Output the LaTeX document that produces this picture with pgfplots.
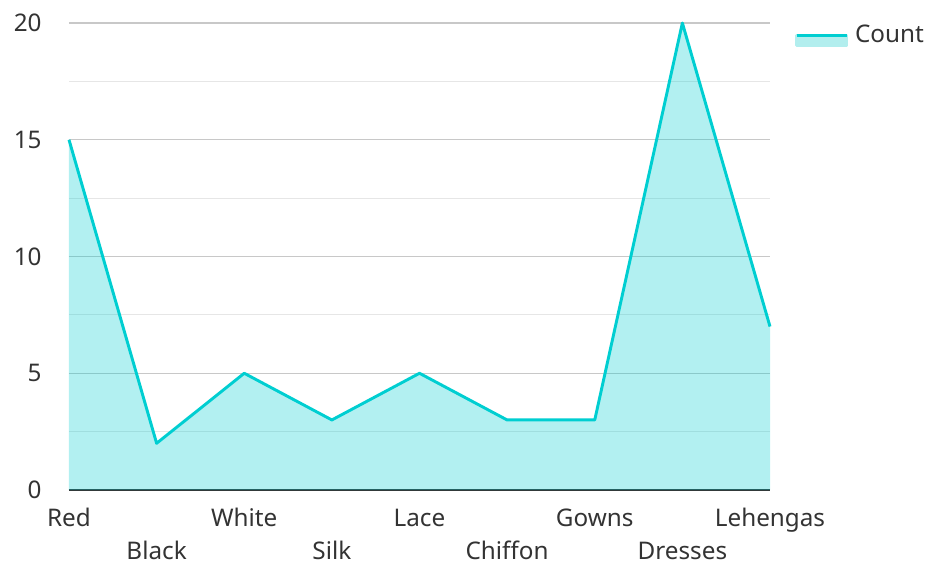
\documentclass[border=0pt]{standalone}
\usepackage{pgfplots}
\pgfplotsset{compat=1.18}
\usepackage{fontspec}
\setmainfont{Noto Sans}
\definecolor{turq}{RGB}{0,206,209}
\definecolor{turqfill}{RGB}{178,238,238}
\definecolor{txt}{RGB}{51,51,51}
\definecolor{gmaj}{RGB}{200,200,200}
\definecolor{gmin}{RGB}{230,230,230}

\begin{document}
\begin{tikzpicture}[x=1pt,y=1pt]
\useasboundingbox (-51.75,-54) rectangle (644.25,367.5);
\begin{axis}[
    at={(0,0)}, anchor=origin,
    scale only axis,
    width=525.75pt, height=350.25pt,
    xmin=0, xmax=8, ymin=0, ymax=20,
    xtick={0,...,8},
    xticklabels={{\strut Red},{\strut\\Black},{\strut White},{\strut\\Silk},{\strut Lace},
        {\strut\\Chiffon},{\strut Gowns},{\strut\\Dresses},{\strut Lehengas}},
    ytick={0,5,10,15,20},
    minor y tick num=1,
    ymajorgrids, yminorgrids,
    major grid style={gmaj, line width=0.9pt},
    minor grid style={gmin, line width=0.9pt},
    axis x line*=bottom, axis y line*=left,
    x axis line style={txt, line width=1.5pt, -},
    y axis line style={draw=none},
    major tick length=0pt, minor tick length=0pt,
    tick style={draw=none},
    ticklabel style={font=\fontsize{18.2}{24.75}\selectfont, text=txt},
    xticklabel style={align=center, anchor=north, yshift=-6.5pt},
    yticklabel style={xshift=-17pt},
    /pgf/number format/assume math mode=true,
    clip=false,
    legend style={at={(axis description cs:1.036,0.974)}, anchor=west, draw=none, fill=none,
        font=\fontsize{18.2}{20}\selectfont, text=txt, inner sep=0pt,
        /tikz/every even column/.append style={column sep=0pt}},
    legend cell align=left,
    legend image code/.code={
        \fill[turqfill] (0pt,-8pt) rectangle (37.5pt,0pt);
        \draw[turq, line width=2.2pt] (0pt,0pt) -- (37.5pt,0pt);
    },
]
\addplot[fill=turq, fill opacity=0.3, draw=none, forget plot] coordinates {
    (0,15) (1,2) (2,5) (3,3) (4,5) (5,3) (6,3) (7,20) (8,7)
} \closedcycle;
\addplot[turq, line width=2.2pt, line join=round] coordinates {
    (0,15) (1,2) (2,5) (3,3) (4,5) (5,3) (6,3) (7,20) (8,7)
};
\addlegendentry{\hspace{3pt}Count}
\end{axis}
\end{tikzpicture}
\end{document}
